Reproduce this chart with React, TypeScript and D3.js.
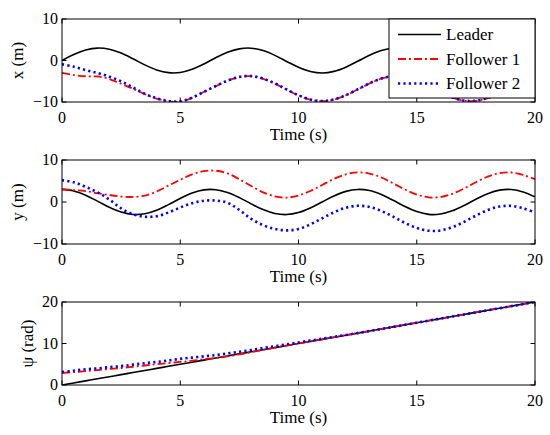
import React from "react";
import * as d3 from "d3";

// time samples (s)
const TIME = [0, 0.5, 1, 1.5, 2, 2.5, 3, 3.5, 4, 4.5, 5, 5.5, 6, 6.5, 7, 7.5, 8, 8.5, 9, 9.5, 10,
    10.5, 11, 11.5, 12, 12.5, 13, 13.5, 14, 14.5, 15, 15.5, 16, 16.5, 17, 17.5, 18, 18.5, 19, 19.5, 20];

const LEADER_X = [0, 1.44, 2.52, 2.99, 2.73, 1.80, 0.42, -1.05, -2.27, -2.93, -2.88, -2.12, -0.84, 0.65, 1.97, 2.81,
    2.97, 2.39, 1.24, -0.23, -1.63, -2.64, -3.00, -2.62, -1.61, -0.20, 1.26, 2.41, 2.97, 2.81, 1.95, 0.62, -0.86,
    -2.14, -2.88, -2.93, -2.25, -1.03, 0.45, 1.82, 2.74];
const F1_X = [-3.0, -3.5, -3.8, -3.85, -4.45, -5.6, -6.8, -8.1, -9.2, -9.8, -9.9, -9.0, -7.6, -6.2, -4.9, -4.0,
    -3.8, -4.41, -5.56, -7.03, -8.43, -9.44, -9.8, -9.42, -8.41, -7.0, -5.54, -4.39, -3.83, -3.99, -4.85, -6.18,
    -7.66, -8.94, -9.68, -9.73, -9.05, -7.83, -6.35, -4.98, -4.06];
const F2_X = [-0.9, -1.5, -2.3, -3.0, -3.9, -5.0, -6.5, -8.0, -9.1, -9.75, -9.85, -8.95, -7.55, -6.15, -4.85, -3.95,
    -3.75, -4.36, -5.5, -6.98, -8.38, -9.4, -9.76, -9.38, -8.36, -6.95, -5.5, -4.34, -3.78, -3.94, -4.8, -6.13,
    -7.61, -8.9, -9.64, -9.69, -9.0, -7.78, -6.3, -4.93, -4.0];

const LEADER_Y = [3.00, 2.63, 1.62, 0.21, -1.25, -2.40, -2.97, -2.81, -1.96, -0.63, 0.85, 2.13, 2.88, 2.93, 2.26,
    1.04, -0.44, -1.81, -2.73, -2.99, -2.52, -1.43, 0.01, 1.45, 2.53, 2.99, 2.72, 1.78, 0.41, -1.07, -2.28, -2.94,
    -2.87, -2.11, -0.83, 0.66, 1.98, 2.82, 2.97, 2.39, 1.22];
const F1_Y = [3.0, 2.85, 2.6, 2.1, 1.65, 1.3, 1.2, 1.5, 2.5, 3.9, 5.3, 6.6, 7.35, 7.45, 6.8, 5.4,
    3.8, 2.3, 1.35, 1.05, 1.55, 2.62, 4.06, 5.5, 6.58, 7.04, 6.77, 5.83, 4.46, 2.98, 1.77, 1.11, 1.18, 1.94,
    3.22, 4.71, 6.03, 6.87, 7.02, 6.44, 5.4];
const F2_Y = [5.2, 4.7, 3.6, 2.3, 0.6, -1.5, -2.9, -3.5, -3.4, -2.5, -1.3, -0.3, 0.3, 0.35, -0.2, -1.9,
    -4.0, -5.5, -6.4, -6.75, -6.42, -5.33, -3.89, -2.45, -1.37, -0.91, -1.18, -2.12, -3.49, -4.97, -6.18, -6.84,
    -6.77, -6.01, -4.73, -3.24, -1.92, -1.08, -0.93, -1.51, -2.5];

const LEADER_PSI = [0, 0.5, 1, 1.5, 2, 2.5, 3, 3.5, 4, 4.5, 5, 5.5, 6, 6.5, 7, 7.5, 8, 8.5, 9, 9.5, 10,
    10.5, 11, 11.5, 12, 12.5, 13, 13.5, 14, 14.5, 15, 15.5, 16, 16.5, 17, 17.5, 18, 18.5, 19, 19.5, 20];
const F1_PSI = [2.9, 3.1, 3.35, 3.6, 3.85, 4.1, 4.4, 4.7, 5.0, 5.3, 5.55, 5.85, 6.2, 6.5, 6.9, 7.4, 7.9, 8.45,
    9.0, 9.5, 10.0, 10.5, 11, 11.5, 12, 12.5, 13, 13.5, 14, 14.5, 15, 15.5, 16, 16.5, 17, 17.5, 18, 18.5, 19, 19.5, 20];
const F2_PSI = [3.1, 3.45, 3.8, 4.0, 4.3, 4.55, 4.9, 5.25, 5.55, 5.9, 6.3, 6.6, 6.9, 7.2, 7.6, 8.0, 8.45, 8.9,
    9.35, 9.8, 10.25, 10.7, 11.15, 11.6, 12.05, 12.5, 13.0, 13.5, 14.0, 14.5, 15, 15.5, 16, 16.5, 17, 17.5, 18,
    18.5, 19, 19.5, 20];

const X_TICKS = [0, 5, 10, 15, 20];
const POS_TICKS = [-10, 0, 10];
const PSI_TICKS = [0, 10, 20];
const SERIES_NAMES = ["Leader", "Follower 1", "Follower 2"];

const FONT = "'Liberation Serif', 'Times New Roman', serif";
const LEFT = 62;
const RIGHT = 535;

const STYLES = [
    { stroke: "#000000", width: 1.6, dash: undefined as string | undefined },
    { stroke: "#ff0000", width: 1.8, dash: "8 3 2 3" },
    { stroke: "#0000ff", width: 2.6, dash: "2.2 3.2" },
];

interface IPanelProps {
    id: string;
    top: number;
    height: number;
    yDomain: [number, number];
    yTicks: number[];
    yLabel: string;
    yLabelX: number;
    series: number[][];
    legend?: boolean;
}

function fmt(v: number) {
    return v < 0 ? "\u2212" + Math.abs(v) : String(v);
}

function Panel(props: IPanelProps) {
    const { top, height } = props;
    const bottom = top + height;
    const x = d3.scaleLinear([0, 20], [LEFT, RIGHT]);
    const y = d3.scaleLinear(props.yDomain, [bottom, top]);

    const line = d3.line<number>()
        .x((d, i) => x(TIME[i]))
        .y((d) => y(d))
        .curve(d3.curveCatmullRom);

    const tickLen = 4.5;
    const legendX = 389;
    const legendRows = [34.5, 59, 83.5];

    return <g>
        <defs>
            <clipPath id={props.id}>
                <rect x={LEFT} y={top} width={RIGHT - LEFT} height={height} />
            </clipPath>
        </defs>
        <g clipPath={`url(#${props.id})`}>
            {props.series.map((s, k) => (
                <path key={k} d={line(s)!} fill="none"
                    stroke={STYLES[k].stroke} strokeWidth={STYLES[k].width}
                    strokeDasharray={STYLES[k].dash} />
            ))}
        </g>
        <rect x={LEFT} y={top} width={RIGHT - LEFT} height={height}
            fill="none" stroke="#000" strokeWidth={1} />
        {X_TICKS.map((t) => (
            <g key={"x" + t}>
                <line x1={x(t)} x2={x(t)} y1={bottom} y2={bottom - tickLen} stroke="#000" />
                <line x1={x(t)} x2={x(t)} y1={top} y2={top + tickLen} stroke="#000" />
                <text x={x(t)} y={bottom + 21} textAnchor="middle" fontSize={16}>{t}</text>
            </g>
        ))}
        {props.yTicks.map((t) => (
            <g key={"y" + t}>
                <line x1={LEFT} x2={LEFT + tickLen} y1={y(t)} y2={y(t)} stroke="#000" />
                <line x1={RIGHT} x2={RIGHT - tickLen} y1={y(t)} y2={y(t)} stroke="#000" />
                <text x={LEFT - 4} y={y(t)} dy="0.33em" textAnchor="end" fontSize={16}>{fmt(t)}</text>
            </g>
        ))}
        <text x={(LEFT + RIGHT) / 2} y={bottom + 38} textAnchor="middle" fontSize={17}>Time (s)</text>
        <text transform={`translate(${props.yLabelX},${(top + bottom) / 2}) rotate(-90)`}
            textAnchor="middle" dy="0.33em" fontSize={17}>{props.yLabel}</text>

        {props.legend && <g>
            <rect x={legendX} y={top} width={RIGHT - legendX} height={79}
                fill="#fff" stroke="#000" strokeWidth={1} />
            {SERIES_NAMES.map((name, k) => (
                <g key={name}>
                    <line x1={398} x2={441} y1={legendRows[k]} y2={legendRows[k]}
                        stroke={STYLES[k].stroke} strokeWidth={STYLES[k].width}
                        strokeDasharray={STYLES[k].dash} />
                    <text x={446} y={legendRows[k]} dy="0.33em" fontSize={17}>{name}</text>
                </g>
            ))}
        </g>}
    </g>;
}

export default function App() {
    return <svg width={550} height={435}
        style={{ position: "absolute", left: 0, top: 0, background: "#fff" }}
        fontFamily={FONT}>
        <Panel id="clip-x" top={19} height={83} yDomain={[-10, 10]} yTicks={POS_TICKS}
            yLabel="x (m)" yLabelX={17} series={[LEADER_X, F1_X, F2_X]} legend />
        <Panel id="clip-y" top={160} height={84} yDomain={[-10, 10]} yTicks={POS_TICKS}
            yLabel="y (m)" yLabelX={17} series={[LEADER_Y, F1_Y, F2_Y]} />
        <Panel id="clip-psi" top={302} height={83} yDomain={[0, 20]} yTicks={PSI_TICKS}
            yLabel="ψ (rad)" yLabelX={27} series={[LEADER_PSI, F1_PSI, F2_PSI]} />
    </svg>;
}
